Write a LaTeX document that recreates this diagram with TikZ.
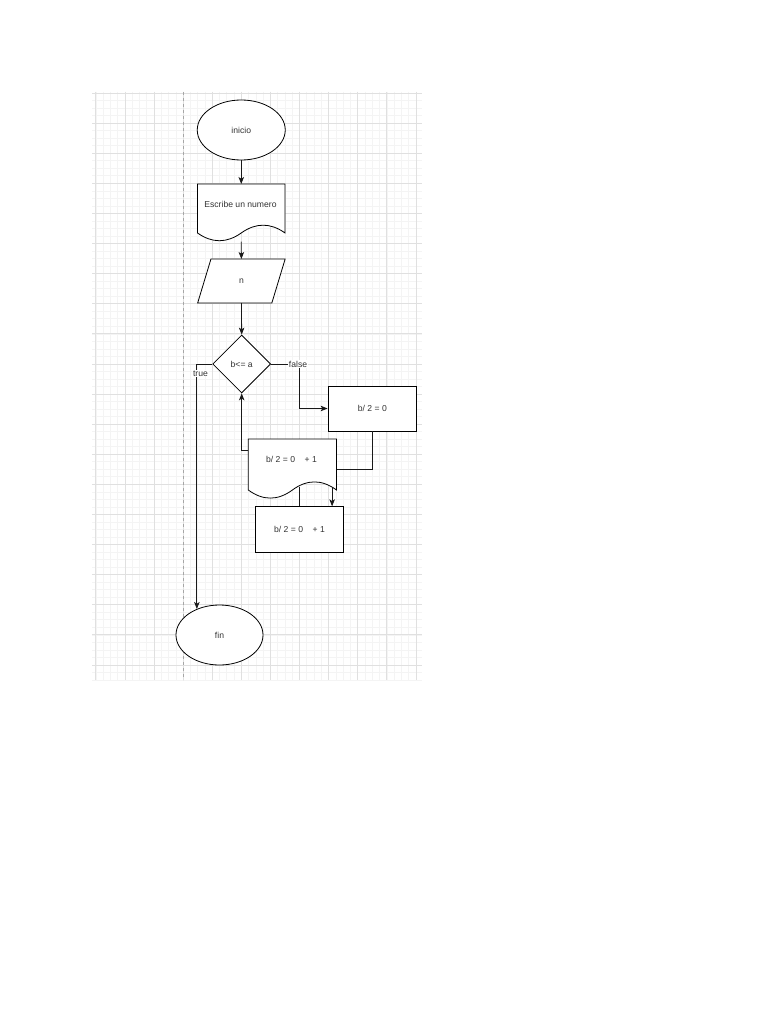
\documentclass[tikz,border=0pt]{standalone}
\usepackage{fontspec}
\setmainfont{Liberation Sans}
\usetikzlibrary{shapes.geometric,arrows.meta,calc}
\definecolor{gminorc}{HTML}{F4F4F4}
\definecolor{gmajorc}{HTML}{E0E0E0}
\definecolor{txtc}{HTML}{333333}
\newcommand\mydocshape[4]{% x0 y0 w h
  \draw[shapeline] (#1,#2) -- ({#1+#3},#2) -- ({#1+#3},{#2+0.85*#4})
    .. controls ({#1+0.8333*#3},{#2+0.67*#4}) and ({#1+0.6667*#3},{#2+0.67*#4}) .. ({#1+0.5*#3},{#2+0.85*#4})
    .. controls ({#1+0.3333*#3},{#2+1.03*#4}) and ({#1+0.1667*#3},{#2+1.03*#4}) .. (#1,{#2+0.85*#4})
    -- cycle;}
\begin{document}
\begin{tikzpicture}[x=1pt,y=-1pt,
  gminor/.style={draw=gminorc,line width=0.4pt},
  gmajor/.style={draw=gmajorc,line width=0.5pt},
  shapeline/.style={draw=black,line width=0.8pt,fill=white},
  txt/.style={font=\fontsize{8.6}{10}\selectfont,text=txtc,inner sep=0.5pt},
  shp/.style={shapeline,txt,inner sep=0pt},
  ghost/.style={inner sep=0pt,outer sep=0pt},
  lbl/.style={txt,fill=white,inner sep=0.8pt},
  ln/.style={draw=black!90,line width=0.8pt},
  arr/.style={ln,-{Stealth[length=7pt,width=5.5pt,inset=1.8pt]}}]
\fill[white] (0,0) rectangle (768,1024);
\useasboundingbox (0,0) rectangle (768,1024);
% grid
\foreach \j in {0,...,44} \draw[gminor] ({95.7+7.275*\j},92) -- ++(0,588);
\foreach \j in {0,...,78} \draw[gminor] (92,{92.9+7.525*\j}) -- (422,{92.9+7.525*\j});
\foreach \j in {0,...,11} \draw[gmajor] ({95.7+29.1*\j},92) -- ++(0,588);
\foreach \j in {0,...,19} \draw[gmajor] (92,{92.9+30.1*\j}) -- (422,{92.9+30.1*\j});
\draw[draw=black!35,dashed,line width=0.6pt] (183,92) -- (183,680);
% shapes
\node[shp,ellipse,minimum width=88pt,minimum height=60pt] (ini) at (241.25,130) {inicio};
\mydocshape{197.5}{184}{87.5}{57.6}
\node[ghost,minimum width=87.5pt,minimum height=57.6pt] (doc1) at (241.25,212.8) {};
\node[txt] (doc1t) at (240.5,204) {Escribe un numero};
\node[ghost,minimum width=87.5pt,minimum height=44pt] (par) at (241.4,281) {};
\draw[shapeline] ($(par.north west)+(13.3,0)$) -- (par.north east) -- ($(par.south east)+(-13.3,0)$) -- (par.south west) -- cycle;
\node[txt] (part) at (241.4,281) {n};
\node[shp,diamond,aspect=1,minimum width=58pt,minimum height=58pt] (dia) at (241.7,364) {b<= a};
\node[shp,rectangle,minimum width=88.7pt,minimum height=45pt] (box1) at (372.35,408.5) {b/ 2 = 0};
\mydocshape{248.3}{439}{88.2}{60}
\node[ghost,minimum width=88.2pt,minimum height=60pt] (doc2) at (292.4,469) {};
\node[txt] (doc2t) at (291.5,459) {b/ 2 = 0~~~~+ 1};
\node[shp,rectangle,minimum width=87.6pt,minimum height=45.3pt] (box3) at (299.5,529.35) {b/ 2 = 0~~~~+ 1};
\node[shp,ellipse,minimum width=87pt,minimum height=60pt] (fin) at (219.5,635) {fin};
% connectors
\draw[arr] (dia.west) -| (fin.131);
\node[lbl] (ltrue) at (200.5,373.5) {true};
\draw[arr] (ini.south) -- (doc1.north);
\draw[arr] (doc1.south) -- (par.north);
\draw[arr] (par.south) -- (dia.north);
\coordinate (fc) at (299.5,364);
\draw[arr] (dia.east) -- (fc) |- (box1.west);
\node[lbl] (lfalse) at (298,364) {false};
\draw[ln] (box1.south) |- (doc2.east);
\draw[arr] ($(doc2.north west)+(0,11)$) -| (dia.south);
\draw[ln] (box3.north) -- ++(0,-19.5);
\draw[arr] ($(box3.north east)+(-11.6,-18.5)$) -- ($(box3.north east)+(-11.6,0)$);
\end{tikzpicture}
\end{document}
